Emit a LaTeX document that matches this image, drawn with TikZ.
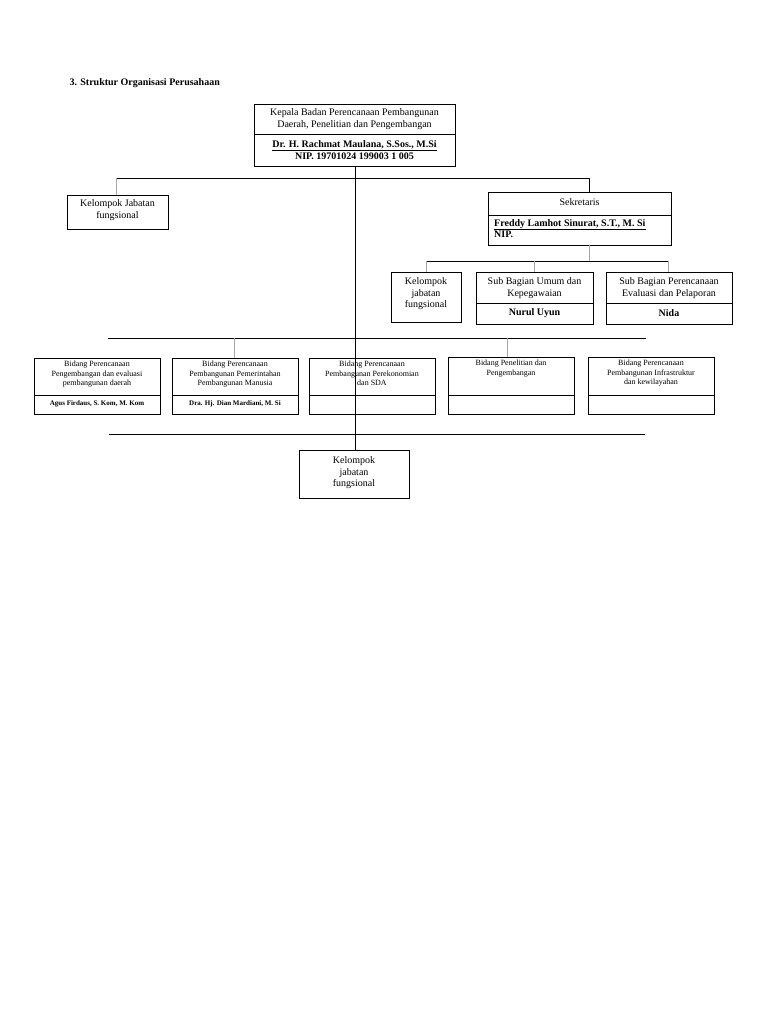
\documentclass[tikz,border=0pt]{standalone}
\usepackage{fontspec}
\setmainfont{Liberation Serif}
\begin{document}
\begin{tikzpicture}[x=1pt,y=-1pt,
 bx/.style={draw,line width=0.8pt},
 ln/.style={line width=0.8pt},
 gl/.style={draw=gray!70,line width=0.8pt},
 t/.style={align=center,font=\fontsize{10}{11.5}\selectfont,inner sep=0pt},
 s/.style={align=center,font=\fontsize{8}{9.3}\selectfont,inner sep=0pt}]
\useasboundingbox (0,0) rectangle (768,1024);
\node[anchor=west,font=\bfseries\fontsize{10}{12}\selectfont] (title) at (66,83) {3. Struktur Organisasi Perusahaan};
% top
\draw[bx] (254,104) rectangle (455,166); \draw[ln] (254,134)--(455,134);
\node[t] (kepala) at (354.5,119) {Kepala Badan Perencanaan Pembangunan\\Daerah, Penelitian dan Pengembangan};
\node[t,font=\bfseries\fontsize{10}{11.5}\selectfont] (kname) at (354.5,150) {\underline{Dr. H. Rachmat Maulana, S.Sos., M.Si}\\NIP. 19701024 199003 1 005};
\coordinate (ktop) at (355,166); \coordinate (kbot) at (355,450);
\draw[ln] (ktop)--(kbot);
\coordinate (h1l) at (116,178); \coordinate (h1r) at (589,178);
\draw[ln] (h1l)--(h1r);
% kelompok left
\draw[bx] (67,195) rectangle (168,229);
\node[t] (kjf) at (117.5,210) {Kelompok Jabatan\\fungsional};
\coordinate (kjft) at (116,195); \draw[gl] (h1l)--(kjft);
% sekretaris
\draw[bx] (488,192) rectangle (671,245); \draw[ln] (488,215)--(671,215);
\node[t] (sek) at (579.5,202) {Sekretaris};
\node[t,font=\bfseries\fontsize{10}{11.5}\selectfont,align=left,anchor=north west] (sname) at (494,219) {\underline{Freddy Lamhot Sinurat, S.T., M. Si}\\NIP.};
\coordinate (sekt) at (589,192); \draw[ln] (h1r)--(sekt);
\coordinate (sekb) at (589,245); \coordinate (h2m) at (589,261);
\draw[gl] (sekb)--(h2m);
\coordinate (h2l) at (426,261); \coordinate (h2r) at (668,261);
\draw[ln] (h2l)--(h2r);
\coordinate (a1) at (426,272); \coordinate (a2) at (534,272); \coordinate (a3) at (668,272);
\coordinate (b2) at (534,261); \draw[gl] (h2l)--(a1); \draw[gl] (b2)--(a2); \draw[gl] (h2r)--(a3);
\draw[bx] (391,272) rectangle (461,322);
\node[t] (kj2) at (426,294) {Kelompok\\jabatan\\fungsional};
\draw[bx] (476,272) rectangle (593,324); \draw[ln] (476,303)--(593,303);
\node[t] (sbu) at (534.5,288) {Sub Bagian Umum dan\\Kepegawaian};
\node[t,font=\bfseries\fontsize{10}{11.5}\selectfont] (nu) at (534.5,313) {Nurul Uyun};
\draw[bx] (606,272) rectangle (732,324); \draw[ln] (606,303)--(732,303);
\node[t] (sbp) at (669,288) {Sub Bagian Perencanaan\\Evaluasi dan Pelaporan};
\node[t,font=\bfseries\fontsize{10}{11.5}\selectfont] (nida) at (669,313) {Nida};
% bidang row
\coordinate (h3l) at (108,338); \coordinate (h3r) at (646,338);
\draw[ln] (h3l)--(h3r);
\coordinate (c2t) at (234,338); \coordinate (c2b) at (234,358); \draw[gl] (c2t)--(c2b);
\coordinate (c4t) at (507,338); \coordinate (c4b) at (507,357); \draw[gl] (c4t)--(c4b);
\foreach \x/\y in {34/358,172/358,309/358,448/357,588/357}{
 \draw[bx] (\x,\y) rectangle (\x+126,414); \draw[ln] (\x,395)--(\x+126,395);}
\node[s,anchor=north] (b1) at (97,361) {Bidang Perencanaan\\Pengembangan dan evaluasi\\pembangunan daerah};
\node[s,font=\bfseries\fontsize{7}{8}\selectfont] (n1) at (97,404) {Agus Firdaus, S. Kom, M. Kom};
\node[s,anchor=north] (b2n) at (235,361) {Bidang Perencanaan\\Pembangunan Pemerintahan\\Pembangunan Manusia};
\node[s,font=\bfseries\fontsize{7}{8}\selectfont] (n2) at (235,404) {Dra. Hj. Dian Mardiani, M. Si};
\node[s,anchor=north] (b3) at (372,361) {Bidang Perencanaan\\Pembangunan Perekonomian\\dan SDA};
\node[s,anchor=north] (b4) at (511,360) {Bidang Penelitian dan\\Pengembangan};
\node[s,anchor=north] (b5) at (651,360) {Bidang Perencanaan\\Pembangunan Infrastruktur\\dan kewilayahan};
\coordinate (h4l) at (109,434); \coordinate (h4r) at (645,434);
\draw[ln] (h4l)--(h4r);
\draw[bx] (299,450) rectangle (409,498);
\node[t] (kj3) at (354,473) {Kelompok\\jabatan\\fungsional};
\end{tikzpicture}
\end{document}
